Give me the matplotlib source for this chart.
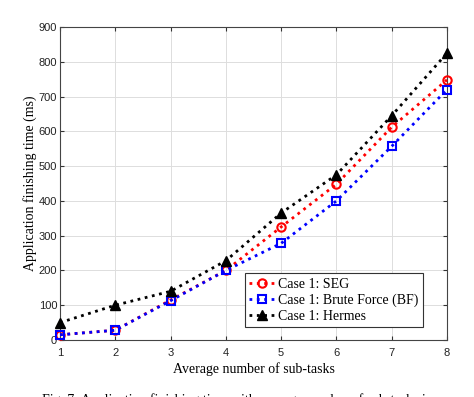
import numpy as np
import matplotlib.pyplot as plt

# data
n_subtasks = [1, 2, 3, 4, 5, 6, 7, 8]
seg = [15, 28, 115, 200, 325, 448, 612, 748]
brute_force = [15, 28, 113, 200, 278, 400, 557, 720]
hermes = [50, 100, 140, 228, 365, 475, 645, 825]

fig = plt.figure(figsize=(4.74, 3.97), dpi=100)
ax = fig.add_axes([0.1266, 0.1436, 0.8164, 0.7884])

ax.plot(n_subtasks, seg, ':', color='red', linewidth=2, marker='o', markersize=6,
        markerfacecolor='none', markeredgewidth=1.5, label='Case 1: SEG', clip_on=False, zorder=3)
ax.plot(n_subtasks, brute_force, ':', color='blue', linewidth=2, marker='s', markersize=5.5,
        markerfacecolor='none', markeredgewidth=1.5, label='Case 1: Brute Force (BF)',
        clip_on=False, zorder=3)
ax.plot(n_subtasks, hermes, ':', color='black', linewidth=2, marker='^', markersize=6.5,
        markerfacecolor='black', label='Case 1: Hermes', clip_on=False, zorder=3)

ax.set_xlim(1, 8)
ax.set_ylim(0, 900)
ax.set_xticks(n_subtasks)
ax.set_yticks(np.arange(0, 901, 100))
ax.grid(True, color='#dddddd', linewidth=0.7)
ax.tick_params(direction='in', top=True, right=True, labelsize=8, length=3, color='#333333')
ax.tick_params(axis='x', pad=6)
ax.tick_params(axis='y', pad=2)
for lbl in ax.get_xticklabels() + ax.get_yticklabels():
    lbl.set_family('Liberation Sans')
    lbl.set_color('#222222')
for s in ax.spines.values():
    s.set_color('#444444')
    s.set_linewidth(0.8)

ax.set_xlabel('Average number of sub-tasks', family='Liberation Serif', fontsize=10, labelpad=3)
ax.set_ylabel('Application finishing time (ms)', family='Liberation Serif', fontsize=10, labelpad=1)

leg = ax.legend(loc='lower right', bbox_to_anchor=(0.938, 0.042),
                prop={'family': 'Liberation Serif', 'size': 10},
                fancybox=False, edgecolor='#333333', framealpha=1, handlelength=1.8,
                handletextpad=0.3, borderpad=0.3, labelspacing=0.2, borderaxespad=0)
leg.get_frame().set_linewidth(0.8)

fig.text(0.5, -0.008, 'Fig. 7: Application finishing time with average number of sub-tasks in',
         ha='center', va='center', family='Liberation Serif', fontsize=10)

fig.savefig('out.png', dpi=100)
